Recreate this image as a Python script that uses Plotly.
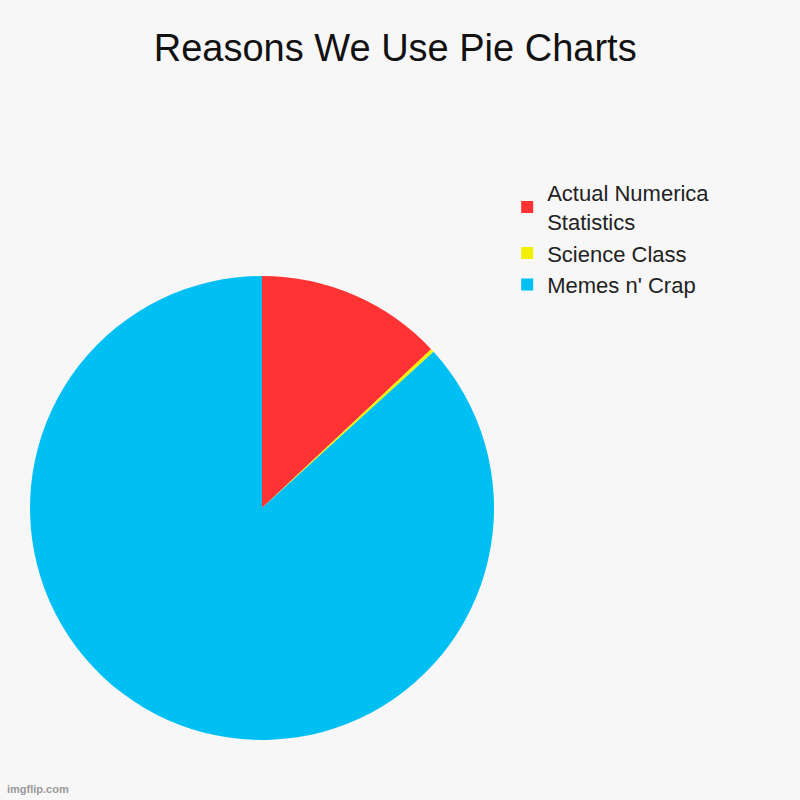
import plotly.graph_objects as go

# slice data (percent of the whole)
labels = ["Actual Numerica<br>Statistics", "Science Class", "Memes n' Crap"]
values = [13.0, 0.25, 86.75]
colors = ["#ff3333", "#f0f000", "#00bff3"]

title = "Reasons We Use Pie Charts"

fig = go.Figure()
fig.add_trace(
    go.Pie(
        labels=labels,
        values=values,
        sort=False,
        direction="clockwise",
        rotation=0,
        textinfo="none",
        hoverinfo="label+percent",
        marker=dict(colors=colors, line=dict(width=0)),
        domain=dict(x=[0.0375, 0.6175], y=[0.075, 0.655]),
    )
)

fig.update_layout(
    width=800,
    height=800,
    paper_bgcolor="#f7f7f7",
    plot_bgcolor="#f7f7f7",
    margin=dict(l=0, r=0, t=0, b=0),
    font=dict(family="Liberation Sans, Arial, sans-serif", color="#222222"),
    title=dict(
        text=title,
        x=0.494,
        xanchor="center",
        y=0.94,
        yanchor="middle",
        font=dict(size=38, color="#111111"),
    ),
    legend=dict(
        x=0.634,
        y=0.785,
        xanchor="left",
        yanchor="top",
        font=dict(size=22, color="#222222"),
        traceorder="normal",
        bgcolor="rgba(0,0,0,0)",
    ),
    showlegend=True,
    annotations=[
        dict(
            text="<b>imgflip.com</b>",
            x=0.006,
            y=0.004,
            xref="paper",
            yref="paper",
            xanchor="left",
            yanchor="bottom",
            showarrow=False,
            font=dict(size=11, color="#999999"),
        )
    ],
)

# drop the default page margin so the grey background fills the window
fig.write_html(
    "out.html",
    config={"displayModeBar": False},
    post_script="document.body.style.margin='0';",
)
